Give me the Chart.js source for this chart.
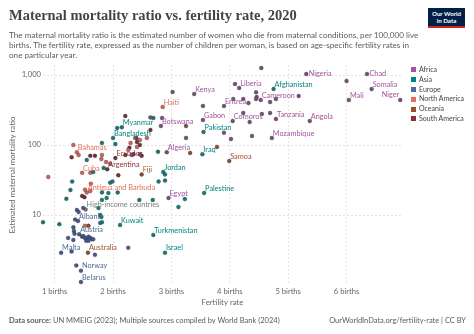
<!DOCTYPE html>
<html>
<head>
<meta charset="utf-8">
<script src="https://cdn.jsdelivr.net/npm/chart.js@4.4.1/dist/chart.umd.min.js"></script>
<style>
  html, body { margin:0; padding:0; background:#fff; }
  #wrap { position:relative; width:474px; height:334px; overflow:hidden; font-family:Lato, "Noto Sans", sans-serif; }
  #c { position:absolute; left:0; top:0; }
  .abs { position:absolute; white-space:nowrap; }
  #title { left:9px; top:5px; font-family:"Liberation Serif", "DejaVu Serif", serif; font-weight:bold; color:#444; font-size:17px; line-height:20px; }
  .sub { left:9px; color:#5b5b5b; font-size:9px; line-height:10px; }
  #logo { left:428px; top:8px; width:37px; height:20px; background:#002147; border-bottom:2px solid #ce261e; color:#fff; font-size:6.2px; line-height:6.8px; text-align:center; font-weight:bold; padding-top:3px; box-sizing:border-box; }
  #legend { left:411px; top:65px; font-size:7px; color:#444; }
  .li { position:relative; height:9.8px; line-height:9.8px; padding-left:8px; }
  .sw { position:absolute; left:0; top:2.4px; width:5px; height:5px; }
  .foot { top:316px; font-size:7.8px; color:#5b5b5b; line-height:10px; }
</style>
</head>
<body>
<div id="wrap">
  <canvas id="c" width="474" height="334"></canvas>
  <div id="title" class="abs">Maternal mortality ratio vs. fertility rate, 2020</div>
  <div id="s1" class="abs sub" style="top:30px">The maternal mortality ratio is the estimated number of women who die from maternal conditions, per 100,000 live</div>
  <div id="s2" class="abs sub" style="top:40px">births. The fertility rate, expressed as the number of children per woman, is based on age-specific fertility rates in</div>
  <div id="s3" class="abs sub" style="top:49.5px">one particular year.</div>
  <div id="logo" class="abs">Our World<br>in Data</div>
  <div id="legend" class="abs"></div>
  <div id="f1" class="abs foot" style="left:9px"><b>Data source:</b> UN MMEIG (2023); Multiple sources compiled by World Bank (2024)</div>
  <div id="f2" class="abs foot" style="right:8px">OurWorldInData.org/fertility-rate | CC BY</div>
</div>
<script>
// ---- DATA: [fertility rate (births per woman), maternal mortality ratio (per 100,000 live births)] ----
const africa = [
  [4.54,1259],[3.02,571],[3.39,535],[3.54,361],[4.09,744],[4.16,652],[5.31,1033],[6.35,1033],
  [6.00,820],[6.43,631],[6.04,440],[6.92,440],[5.37,220],[4.79,235],[4.72,126],[5.18,501],
  [4.69,411],[4.79,454],[4.45,565],[4.46,485],[4.45,454],[4.53,440],[4.06,454],[4.23,454],
  [4.32,398],[4.23,287],[4.05,220],[4.34,213],[4.55,277],[4.69,287],[4.38,135],[4.02,122],
  [3.90,360],[3.54,228],[3.25,126],[2.82,187],[2.84,243],[3.90,150],[2.92,79],[2.95,17.5],
  [2.26,3.4],[2.38,126],[2.32,72],[2.46,74],[2.64,248]
];
const asia = [
  [4.75,631],[3.55,153],[3.53,74],[2.86,41],[2.89,38],[2.78,30],[2.89,31],[3.56,20.6],
  [3.23,16.9],[3.12,13],[2.69,5.2],[2.89,2.9],[2.12,7.2],[0.80,7.9],[1.08,7.4],[2.15,179],
  [2.07,175],[2.00,126],[1.81,107],[2.04,103],[2.77,80],[2.69,243],[1.30,30],[1.27,22.8],
  [1.95,29],[1.99,30],[1.81,21],[1.92,20.6],[1.81,16.4],[1.89,17.5],[2.08,21],[2.45,16.4],
  [2.68,16.4],[1.20,17],[1.75,12.6],[1.78,10],[1.80,9.4],[1.78,7.7],[1.81,7.9],[1.84,47],
  [1.66,41],[1.55,61]
];
const europe = [
  [1.38,11.8],[1.41,11.0],[1.49,12.6],[1.40,8.2],[1.35,8.6],[1.32,6.7],[1.33,5.9],[1.34,5.4],
  [1.42,5.3],[1.47,4.9],[1.49,5.0],[1.52,4.7],[1.55,4.7],[1.58,4.9],[1.61,4.7],[1.64,4.5],
  [1.66,4.5],[1.54,4.3],[1.58,4.3],[1.23,4.7],[1.32,4.4],[1.11,2.9],[1.29,3.0],[1.69,2.7],
  [1.37,1.9],[1.45,1.6],[1.45,1.1]
];
const northAmerica = [
  [2.85,349],[1.38,79],[1.41,72],[1.32,100],[1.80,63],[1.81,72],[1.88,57],[1.95,54],
  [1.47,40],[1.61,40],[0.89,35],[1.55,21],[1.52,23],[1.61,22],[1.62,28],[2.30,107],
  [2.26,85],[2.46,118],[2.58,126],[2.41,94],[1.52,7.0]
];
const oceania = [
  [3.99,59],[2.49,38],[3.32,77],[3.78,94],[3.25,187],[1.57,2.9],[1.58,7.0]
];
const southAmerica = [
  [2.21,260],[2.40,126],[2.41,110],[2.46,100],[2.28,91],[2.04,65],[2.21,72],[2.35,74],
  [1.90,45],[2.09,37],[1.61,70],[1.69,70],[1.47,18.7],[1.51,18],[1.29,67],[2.64,164],[2.49,70]
];
const highIncome = [[1.53,12]];

const xTicks = [1,2,3,4,5,6];
const yTicks = [10,100,1000];

// Country labels: [name, group, fertility, mmr]
const countryLabels = [
  ['Nigeria','africa',5.31,1033],['Chad','africa',6.35,1033],['Somalia','africa',6.43,631],
  ['Mali','africa',6.04,440],['Niger','africa',6.92,440],['Kenya','africa',3.39,535],
  ['Liberia','africa',4.16,652],['Eritrea','africa',3.90,360],['Cameroon','africa',4.53,440],
  ['Gabon','africa',3.54,228],['Comoros','africa',4.05,220],['Tanzania','africa',4.79,235],
  ['Angola','africa',5.37,220],['Mozambique','africa',4.72,126],['Botswana','africa',2.82,187],
  ['Algeria','africa',2.92,79],['Egypt','africa',2.95,17.5],
  ['Afghanistan','asia',4.75,631],['Myanmar','asia',2.15,179],['Bangladesh','asia',2.00,126],
  ['Pakistan','asia',3.55,153],['Iraq','asia',3.53,74],['Jordan','asia',2.86,41],
  ['Palestine','asia',3.56,20.6],['Kuwait','asia',2.12,7.2],['Turkmenistan','asia',2.69,5.2],
  ['Israel','asia',2.89,2.9],
  ['Albania','europe',1.40,8.2],['Austria','europe',1.42,5.3],['Malta','europe',1.11,2.9],
  ['Norway','europe',1.45,1.6],['Belarus','europe',1.45,1.1],
  ['Haiti','northAmerica',2.85,349],['Bahamas','northAmerica',1.38,79],['Cuba','northAmerica',1.47,40],
  ['Antigua and Barbuda','northAmerica',1.55,21],
  ['Samoa','oceania',3.99,59],['Fiji','oceania',2.49,38],['Australia','oceania',1.57,2.9],
  ['Ecuador','southAmerica',2.04,65],['Argentina','southAmerica',1.90,45],
  ['High-income countries','highIncome',1.53,12]
];

// ---- STYLE ----
const groups = [
  {key:'africa', name:'Africa', data:africa, color:'#a2559c', dot:'#76507c'},
  {key:'asia', name:'Asia', data:asia, color:'#00847e', dot:'#167a74'},
  {key:'europe', name:'Europe', data:europe, color:'#4c6a9c', dot:'#45598a'},
  {key:'northAmerica', name:'North America', data:northAmerica, color:'#e56e5a', dot:'#c8665a'},
  {key:'oceania', name:'Oceania', data:oceania, color:'#9a5129', dot:'#84502f'},
  {key:'southAmerica', name:'South America', data:southAmerica, color:'#883039', dot:'#70303a'},
];
const labelColors = {africa:'#a2559c', asia:'#00847e', europe:'#4c6a9c', northAmerica:'#e56e5a',
  oceania:'#9a5129', southAmerica:'#883039', highIncome:'#7d7d7d'};
const labelPlace = {Nigeria:'r', Chad:'r', Niger:'al'};

// legend
const lg = document.getElementById('legend');
groups.forEach(g => {
  const d = document.createElement('div'); d.className = 'li';
  d.innerHTML = '<span class="sw" style="background:' + g.color + '"></span>' + g.name;
  lg.appendChild(d);
});

function fit(id, target) {
  const el = document.getElementById(id);
  const fs = parseFloat(getComputedStyle(el).fontSize);
  const w = el.getBoundingClientRect().width;
  const nfs = fs * target / w;
  el.style.fontSize = nfs + 'px';
  return nfs;
}

const labelPlugin = {
  id: 'countryLabels',
  afterDatasetsDraw(chart) {
    const {ctx, scales:{x, y}} = chart;
    ctx.save();
    ctx.font = '7.3px Lato';
    ctx.textBaseline = 'middle';
    countryLabels.forEach(([t, g, fx, fy]) => {
      const px = x.getPixelForValue(fx), py = y.getPixelForValue(fy);
      const mode = labelPlace[t] || 'ar';
      ctx.fillStyle = labelColors[g];
      if (mode === 'r') { ctx.textAlign = 'left'; ctx.fillText(t, px + 2.5, py); }
      else if (mode === 'al') { ctx.textAlign = 'right'; ctx.fillText(t, px - 1, py - 5); }
      else { ctx.textAlign = 'left'; ctx.fillText(t, px + 1, py - 4.6); }
    });
    ctx.restore();
  }
};

function build() {
  fit('title', 288);
  const sf = fit('s1', 410);
  document.getElementById('s2').style.fontSize = sf + 'px';
  document.getElementById('s3').style.fontSize = sf + 'px';
  fit('f1', 271);
  fit('f2', 137);

  const tickFont = {family:'Lato', size:7.6};
  const datasets = groups.map(g => ({
    label: g.name,
    data: g.data.map(p => ({x:p[0], y:p[1]})),
    backgroundColor: g.dot,
    borderColor: 'rgba(30,30,30,0.5)',
    borderWidth: 0.5,
    pointRadius: 2.0,
    clip: false
  }));
  datasets.push({label:'High-income countries', data: highIncome.map(p => ({x:p[0], y:p[1]})),
    backgroundColor:'#7a7a7a', borderColor:'rgba(30,30,30,0.5)', borderWidth:0.5, pointRadius:2.0, clip:false});

  new Chart(document.getElementById('c'), {
    type: 'scatter',
    data: { datasets },
    options: {
      responsive: false, animation: false, devicePixelRatio: 1,
      layout: { padding: { left: 8, top: 65, right: 72, bottom: 27 } },
      plugins: { legend: { display: false }, tooltip: { enabled: false } },
      scales: {
        x: {
          type: 'linear', min: 0.8, max: 6.95,
          afterBuildTicks: s => { s.ticks = xTicks.map(v => ({value: v})); },
          afterFit: s => { s.height = 22; },
          ticks: { callback: v => v + ' births', font: tickFont, color: '#666', padding: 2, maxRotation: 0, autoSkip: false },
          grid: { color: '#dedede', drawTicks: false, lineWidth: 0.8 },
          border: { display: false, dash: [2, 2] },
          title: { display: true, text: 'Fertility rate', font: {family:'Lato', size:7.8}, color: '#666', padding: 0 }
        },
        y: {
          type: 'logarithmic', min: 1, max: 1390,
          afterBuildTicks: s => { s.ticks = yTicks.map(v => ({value: v})); },
          afterFit: s => { s.width = 35; },
          ticks: { callback: v => Number(v).toLocaleString('en-US'), font: tickFont, color: '#666', padding: 2, autoSkip: false },
          grid: { color: '#dedede', drawTicks: false, lineWidth: 0.8 },
          border: { display: false, dash: [2, 2] },
          title: { display: true, text: 'Estimated maternal mortality ratio', font: {family:'Lato', size:7.8}, color: '#666', padding: 0 }
        }
      }
    },
    plugins: [labelPlugin]
  });
}
if (document.fonts && document.fonts.ready) { document.fonts.ready.then(build); } else { build(); }
</script>
</body>
</html>
